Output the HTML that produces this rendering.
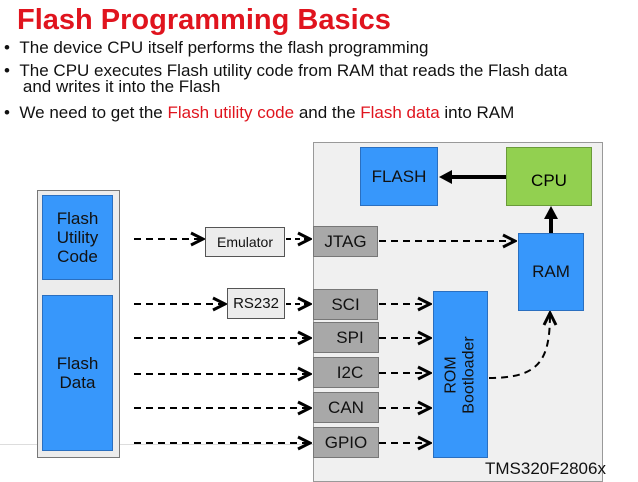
<!DOCTYPE html>
<html><head><style>
body{margin:0;width:638px;height:477px;background:#fff;overflow:hidden;position:relative;font-family:"Liberation Sans",Arial,sans-serif}
.a{position:absolute}
.t{position:absolute;white-space:nowrap}
.box{position:absolute;display:flex;align-items:center;justify-content:center;text-align:center;box-sizing:border-box}
.blue{background:#3797fb;border:1px solid #2a6fc0;color:#111}
.port{background:#a8a8a8;border:1px solid #777;color:#111;font-size:17px}
.gl{background:#ececec;border:1px solid #555;color:#111;font-size:14px}
</style></head><body>
<div class="t" style="left:17px;top:4px;font-size:29px;font-weight:bold;color:#e0141e">Flash Programming Basics</div>
<div class="t" style="left:4px;top:39px;font-size:17px;color:#111;line-height:17px">•&nbsp;&nbsp;The device CPU itself performs the flash programming</div>
<div class="t" style="left:4px;top:63px;font-size:17px;color:#111;line-height:16px">•&nbsp;&nbsp;The CPU executes Flash utility code from RAM that reads the Flash data<br>&nbsp;&nbsp;&nbsp;&nbsp;and writes it into the Flash</div>
<div class="t" style="left:4px;top:103px;font-size:17px;color:#111">•&nbsp;&nbsp;We need to get the <span style="color:#e0141e">Flash utility code</span> and the <span style="color:#e0141e">Flash data</span> into RAM</div>

<div class="a" style="left:313px;top:142px;width:290px;height:340px;background:#f0f0f0;border:1px solid #999;box-sizing:border-box"></div>
<div class="a" style="left:0;top:444px;width:313px;height:1px;background:#ddd"></div>
<div class="a" style="left:37px;top:190px;width:83px;height:268px;background:#ececec;border:1px solid #777;box-sizing:border-box"></div>
<div class="box blue" style="left:42px;top:195px;width:71px;height:85px;font-size:17px;line-height:19px">Flash<br>Utility<br>Code</div>
<div class="box blue" style="left:42px;top:295px;width:71px;height:156px;font-size:17px;line-height:19px">Flash<br>Data</div>

<div class="box gl" style="left:205px;top:227px;width:80px;height:30px">Emulator</div>
<div class="box gl" style="left:227px;top:288px;width:58px;height:31px;font-size:15px">RS232</div>

<div class="box port" style="left:313px;top:226px;width:65px;height:31px">JTAG</div>
<div class="box port" style="left:313px;top:289px;width:65px;height:31px">SCI</div>
<div class="box port" style="left:313px;top:322px;width:66px;height:31px;padding-left:8px">SPI</div>
<div class="box port" style="left:313px;top:357px;width:66px;height:31px;padding-left:8px">I2C</div>
<div class="box port" style="left:313px;top:392px;width:66px;height:31px">CAN</div>
<div class="box port" style="left:313px;top:427px;width:66px;height:31px">GPIO</div>

<div class="box blue" style="left:360px;top:147px;width:78px;height:59px;font-size:17px">FLASH</div>
<div class="box" style="left:506px;top:147px;width:86px;height:59px;background:#92d050;border:1px solid #6a9a3a;font-size:17px;padding-top:8px">CPU</div>
<div class="box blue" style="left:518px;top:233px;width:66px;height:78px;font-size:17px">RAM</div>
<div class="box blue" style="left:433px;top:291px;width:55px;height:167px"><div style="transform:rotate(-90deg);font-size:16px;line-height:18px;white-space:nowrap">ROM<br>Bootloader</div></div>
<div class="t" style="left:485px;top:459px;font-size:17px;color:#111">TMS320F2806x</div>

<svg class="a" style="left:0;top:0" width="638" height="477">
<defs><marker id="o" markerWidth="8" markerHeight="8" refX="7" refY="4" orient="auto"><path d="M1,1 L7,4 L1,7" fill="none" stroke="#000" stroke-width="1.5"/></marker></defs>
<g stroke="#000" stroke-width="2" stroke-dasharray="7,5" fill="none" marker-end="url(#o)">
<path d="M134,239 H203"/><path d="M134,304 H225"/>
<path d="M134,338 H310"/><path d="M134,374 H310"/><path d="M134,408 H310"/><path d="M134,443 H310"/>
<path d="M286,239 H310" stroke-dasharray="5,4"/><path d="M286,304 H310" stroke-dasharray="5,4"/>
<path d="M379,241 H515"/>
<path d="M379,304 H430"/><path d="M379,338 H430"/><path d="M379,373 H430"/><path d="M379,408 H430"/><path d="M379,443 H430"/>
<path d="M489,378 C540,378 550,360 550,313"/>
</g>
<g stroke="#000" stroke-width="4"><path d="M506,177 H450"/><path d="M551,233 V218"/></g>
<path d="M439,177 L452,170 L452,184Z"/><path d="M551,206 L544,219 L558,219Z"/>
</svg>
</body></html>
